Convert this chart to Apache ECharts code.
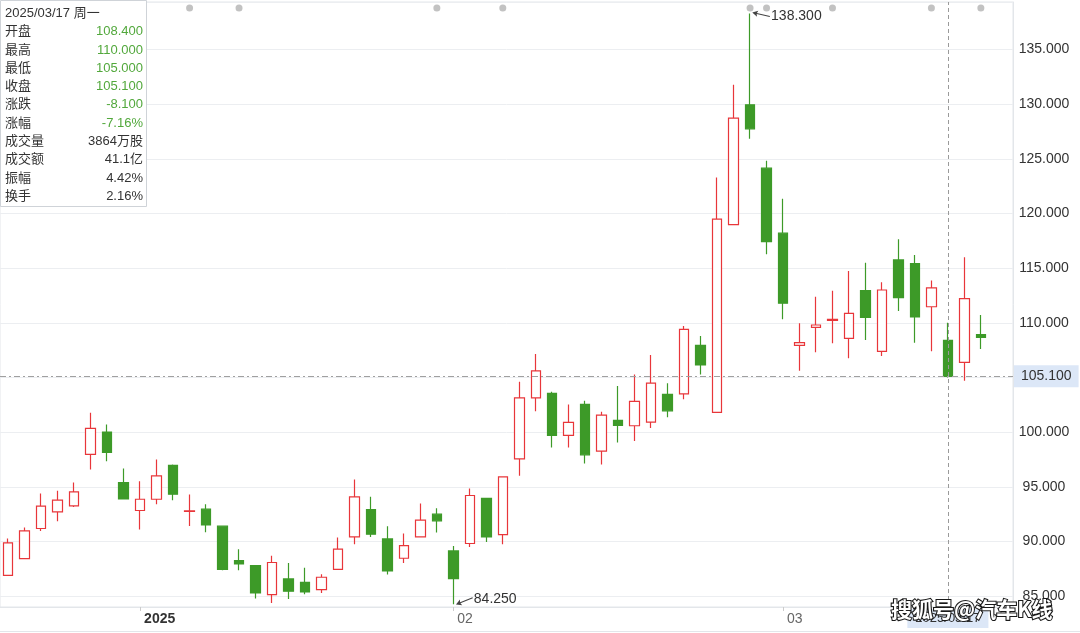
<!DOCTYPE html>
<html><head><meta charset="utf-8">
<script src="https://cdn.jsdelivr.net/npm/echarts@6/dist/echarts.min.js"></script>
<style>html,body{margin:0;padding:0;background:#fff}#c{width:1080px;height:633px}</style>
</head><body><div id="c"></div>
<script>
const dates = [
 '2024-12-18','2024-12-19','2024-12-20','2024-12-23','2024-12-24','2024-12-27','2024-12-30','2024-12-31',
 '2025-01-02','2025-01-03','2025-01-06','2025-01-07','2025-01-08','2025-01-09','2025-01-10','2025-01-13',
 '2025-01-14','2025-01-15','2025-01-16','2025-01-17','2025-01-20','2025-01-21','2025-01-22','2025-01-23',
 '2025-01-24','2025-01-27','2025-01-28',
 '2025-02-03','2025-02-04','2025-02-05','2025-02-06','2025-02-07','2025-02-10','2025-02-11','2025-02-12',
 '2025-02-13','2025-02-14','2025-02-17','2025-02-18','2025-02-19','2025-02-20','2025-02-21','2025-02-24',
 '2025-02-25','2025-02-26','2025-02-27','2025-02-28',
 '2025-03-03','2025-03-04','2025-03-05','2025-03-06','2025-03-07','2025-03-10','2025-03-11','2025-03-12',
 '2025-03-13','2025-03-14','2025-03-17','2025-03-18','2025-03-19'
];
const opens = [86.9,88.43,91.18,92.7,93.25,97.96,100.0,95.39,92.83,93.86,96.95,92.75,92.95,91.39,88.25,87.79,
 85.14,86.57,86.26,85.59,87.45,90.41,92.92,90.23,88.46,90.41,92.49,89.13,89.81,93.93,90.63,97.55,
 103.14,103.54,99.7,102.53,98.26,101.07,100.58,100.92,103.45,103.5,107.94,101.8,118.98,129.95,124.15,118.2,
 107.94,109.59,110.23,108.58,112.94,107.39,115.75,115.41,111.47,108.4,106.38,108.91];
const closes = [89.86,90.96,93.22,93.77,94.53,100.34,98.14,93.89,93.86,96.0,94.32,92.8,91.51,87.45,87.94,85.28,
 88.07,85.44,85.38,86.72,89.29,94.08,90.66,87.3,89.62,91.94,91.88,86.6,94.2,90.41,95.91,103.14,
 105.61,99.7,100.89,97.92,101.56,100.61,102.81,104.49,101.95,109.4,106.14,119.48,128.72,127.75,117.43,111.79,
 108.18,109.8,110.32,110.87,110.5,113.0,112.3,110.53,113.2,105.1,112.21,108.67];
const lows = [86.9,88.4,90.96,91.85,93.16,96.58,97.34,93.85,91.09,93.41,93.77,91.42,90.84,87.36,87.36,84.77,
 84.37,84.73,85.16,85.28,87.4,89.74,90.41,86.97,88.03,90.41,90.82,84.25,89.5,89.95,89.74,96.0,
 101.92,98.6,98.6,97.13,97.04,99.06,99.18,100.37,101.35,103.0,105.28,101.8,118.98,126.83,116.27,110.32,
 105.61,107.3,108.12,106.75,108.42,106.96,111.08,108.18,107.39,105.0,104.7,107.6];
const highs = [90.27,91.27,94.39,94.63,95.39,101.77,100.7,96.68,95.51,97.5,97.04,94.29,93.41,91.39,89.29,87.79,
 88.7,88.03,87.58,87.0,90.36,95.67,94.08,91.39,90.72,93.47,93.04,89.59,94.84,93.93,95.91,104.61,
 107.14,103.69,102.53,102.87,101.86,104.21,105.28,107.05,104.46,109.7,108.79,123.29,131.78,138.3,124.82,121.34,
 109.95,112.39,112.94,114.74,115.5,113.71,117.65,116.21,113.86,110.0,116.0,110.71];
const eventIdx = [11,14,26,30,45,46,50,56,59];
const focusIdx = 57;
const focusWeekday = '周一';
const tipExtraLabels = ['成交量','成交额','振幅','换手'];
const tipExtraValues = ['3864万股','41.1亿','4.42%','2.16%'];

const Y_MIN = 84.0, Y_MAX = 139.35;
const UP = '#e8363a', DOWN = '#3d9a28', GREENTXT = '#52a83c';
const FONT = '"Liberation Sans","Noto Sans CJK SC",sans-serif';

const candleData = dates.map((d, i) => [i, opens[i], closes[i], lows[i], highs[i]]);
const monthIdx = [];
dates.forEach((d, i) => { if (i > 0 && d.slice(0, 7) !== dates[i - 1].slice(0, 7)) monthIdx.push(i); });
let maxIdx = 0, minIdx = 0;
highs.forEach((v, i) => { if (v > highs[maxIdx]) maxIdx = i; });
lows.forEach((v, i) => { if (v < lows[minIdx]) minIdx = i; });

const arrowPath = 'path://M0,3 L5.5,0.3 L4.6,2.55 L18,2.55 L18,3.45 L4.6,3.45 L5.5,5.7 Z';

// tooltip box
const prevClose = closes[focusIdx - 1];
const chg = closes[focusIdx] - prevClose;
const tipLabels = ['开盘','最高','最低','收盘','涨跌','涨幅'].concat(tipExtraLabels);
const tipValues = [opens[focusIdx].toFixed(3), highs[focusIdx].toFixed(3), lows[focusIdx].toFixed(3),
  closes[focusIdx].toFixed(3), chg.toFixed(3), (chg / prevClose * 100).toFixed(2) + '%'].concat(tipExtraValues);
const TZ = 200;
const tipChildren = [{
  type: 'rect', z: TZ, shape: {x: 0.5, y: 0.5, width: 146, height: 206},
  style: {fill: '#fff', stroke: '#cfd3d8', lineWidth: 1}
}, {
  type: 'text', z: TZ + 1, x: 5, y: 13.5,
  style: {text: dates[focusIdx].replace(/-/g, '/') + ' ' + focusWeekday, font: '13px ' + FONT, fill: '#333',
    align: 'left', verticalAlign: 'middle'}
}];
tipLabels.forEach((l, k) => {
  const y = 31.7 + k * 18.3;
  tipChildren.push({type: 'text', z: TZ + 1, x: 5, y: y,
    style: {text: l, font: '13px ' + FONT, fill: '#333', align: 'left', verticalAlign: 'middle'}});
  tipChildren.push({type: 'text', z: TZ + 1, x: 143, y: y,
    style: {text: tipValues[k], font: '13px ' + FONT, fill: k < 6 ? GREENTXT : '#333', align: 'right', verticalAlign: 'middle'}});
});

const chart = echarts.init(document.getElementById('c'), null, {renderer: 'canvas'});
chart.setOption({
  animation: false,
  backgroundColor: '#fff',
  grid: {left: 0, right: 67, top: 2, bottom: 26, show: true, borderColor: '#e3e6ea', borderWidth: 1},
  xAxis: {
    type: 'value', min: -0.5, max: 60.95,
    splitLine: {show: false},
    axisLine: {show: true, onZero: false, lineStyle: {color: '#e3e6ea'}},
    axisTick: {show: true, customValues: monthIdx, length: 4, lineStyle: {color: '#cccccc'}},
    axisLabel: {
      customValues: monthIdx, align: 'left', margin: 5, padding: [0, 0, 0, 4],
      color: '#666', fontSize: 14, fontFamily: FONT,
      formatter: function (v) {
        const i = Math.round(v), d = dates[i];
        if (!d) return '';
        if (i > 0 && d.slice(0, 4) !== dates[i - 1].slice(0, 4)) return '{b|' + d.slice(0, 4) + '}';
        return d.slice(5, 7);
      },
      rich: {b: {fontWeight: 'bold', color: '#333', fontSize: 14, fontFamily: FONT}}
    }
  },
  yAxis: {
    type: 'value', position: 'right', min: Y_MIN, max: Y_MAX, splitNumber: 11,
    axisLine: {show: true, onZero: false, lineStyle: {color: '#e3e6ea'}},
    axisTick: {show: false},
    splitLine: {lineStyle: {color: '#eceef1'}},
    axisLabel: {showMinLabel: false, showMaxLabel: false, formatter: v => v.toFixed(3),
      align: 'center', margin: 31, color: '#333', fontSize: 14, fontFamily: FONT}
  },
  series: [{
    type: 'candlestick', data: candleData, barWidth: 10,
    itemStyle: {color: '#ffffff', color0: DOWN, borderColor: UP, borderColor0: DOWN, borderWidth: 1.2},
    markLine: {
      silent: true, symbol: ['none', 'none'], animation: false,
      data: [
        {xAxis: focusIdx, lineStyle: {color: '#9a9a9a', type: [4, 3], width: 1},
          label: {show: true, position: 'start', distance: 2, formatter: dates[focusIdx].replace(/-/g, '/'),
            backgroundColor: '#dce7f7', color: '#333', fontSize: 13, fontFamily: FONT, padding: [3, 8]}},
        {yAxis: closes[focusIdx], lineStyle: {color: '#a0a0a0', type: [6, 3, 2, 3], width: 1},
          label: {show: true, position: 'end', distance: 1, formatter: closes[focusIdx].toFixed(3),
            backgroundColor: '#dce7f7', color: '#333', fontSize: 14, fontFamily: FONT, padding: [4, 7]}}
      ]
    },
    markPoint: {
      silent: true, animation: false,
      data: [
        {coord: [maxIdx, highs[maxIdx]], symbol: arrowPath, symbolSize: [18, 6], symbolRotate: -12.5,
          symbolOffset: [11, 1], itemStyle: {color: '#444'}, label: {show: false}},
        {coord: [maxIdx, highs[maxIdx]], symbol: 'circle', symbolSize: 1, itemStyle: {color: 'rgba(0,0,0,0)'},
          label: {show: true, position: [21.5, 2.8], align: 'left', verticalAlign: 'middle',
            formatter: highs[maxIdx].toFixed(3), color: '#333', fontSize: 14, fontFamily: FONT}},
        {coord: [minIdx, lows[minIdx]], symbol: arrowPath, symbolSize: [18, 6], symbolRotate: 22,
          symbolOffset: [11, -3.2], itemStyle: {color: '#444'}, label: {show: false}},
        {coord: [minIdx, lows[minIdx]], symbol: 'circle', symbolSize: 1, itemStyle: {color: 'rgba(0,0,0,0)'},
          label: {show: true, position: [21, -5], align: 'left', verticalAlign: 'middle',
            formatter: lows[minIdx].toFixed(3), color: '#333', fontSize: 14, fontFamily: FONT}}
      ]
    }
  }, {
    type: 'scatter', silent: true, symbolSize: 7,
    itemStyle: {color: '#b3b3b3'},
    data: eventIdx.map(i => [i, Y_MAX - 0.55])
  }],
  graphic: [
    {type: 'line', silent: true, shape: {x1: 0, y1: 631.5, x2: 1080, y2: 631.5}, style: {stroke: '#e3e6ea', lineWidth: 1}},
    {type: 'group', left: 0, top: 0, z: TZ, children: tipChildren},
    {type: 'text', z: 300, x: 891, y: 609,
      style: {text: '搜狐号@汽车K线', font: 'bold 21px "Noto Sans CJK SC",sans-serif', fill: '#ffffff',
        stroke: '#1a1a1a', lineWidth: 2.2, align: 'left', verticalAlign: 'middle'}}
  ]
});
</script></body></html>
